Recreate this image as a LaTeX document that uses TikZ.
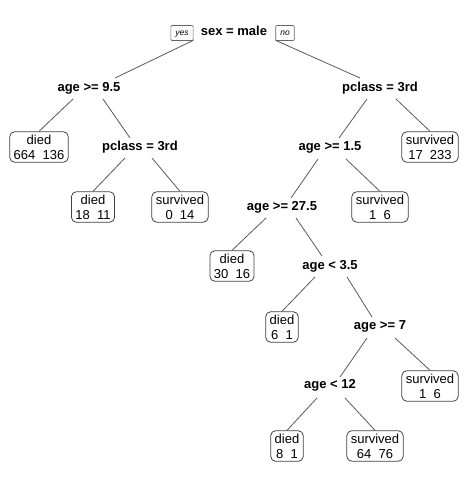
\documentclass[tikz,border=0pt]{standalone}
\usepackage{fontspec}
\setmainfont{Liberation Sans}
\begin{document}
\begin{tikzpicture}[x=1pt,y=-1pt,
  split/.style={font=\fontsize{13}{15}\selectfont\bfseries, inner sep=1pt},
  leaf/.style={draw=black!75, rounded corners=5pt, align=center, line width=0.8pt,
    font=\fontsize{13}{15}\selectfont, inner xsep=4pt, inner ysep=3pt},
  yn/.style={draw=black!60, font=\fontsize{8.5}{10}\selectfont\itshape, inner xsep=4.5pt,
    inner ysep=0pt, text height=7pt, text depth=2pt, minimum height=15pt, line width=0.6pt, rounded corners=1pt},
  conn/.style={draw=black!65, line width=0.8pt}]
\useasboundingbox (0,0) rectangle (474,481);
% splits
\node[split] (S) at (234,31) {sex = male};
\node[yn] (yes) at (182,33) {yes};
\node[yn] (no) at (285,33) {no};
\node[split] (A) at (89,88) {age >= 9.5};
\node[split] (B) at (380,88) {pclass = 3rd};
\node[split] (C) at (140,147) {pclass = 3rd};
\node[split] (D) at (330,147) {age >= 1.5};
\node[split] (E) at (282,207) {age >= 27.5};
\node[split] (F) at (330,266) {age < 3.5};
\node[split] (G) at (380,326) {age >= 7};
\node[split] (H) at (330,385) {age < 12};
% leaves
\node[leaf] (L1) at (39,147) {died\\664\ \ 136};
\node[leaf] (L2) at (430,147) {survived\\17\ \ 233};
\node[leaf] (L3) at (93,207) {died\\18\ \ 11};
\node[leaf] (L4) at (180,207) {survived\\0\ \ 14};
\node[leaf] (L5) at (380,207) {survived\\1\ \ 6};
\node[leaf] (L6) at (232,266) {died\\30\ \ 16};
\node[leaf] (L7) at (282,327) {died\\6\ \ 1};
\node[leaf] (L8) at (430,386) {survived\\1\ \ 6};
\node[leaf] (L9) at (287,446) {died\\8\ \ 1};
\node[leaf] (L10) at (375,446) {survived\\64\ \ 76};
% connectors
\draw[conn] ([shift={(0,-0.5)}]yes.south east) -- ([shift={(26,-10)}]A.center);
\draw[conn] ([shift={(0,-0.5)}]no.south west) -- ([shift={(-20,-10)}]B.center);
\draw[conn] ([shift={(-16,11)}]A.center) -- (L1.north);
\draw[conn] ([shift={(14,11)}]A.center) -- ([shift={(-10,-9)}]C.center);
\draw[conn] ([shift={(-13,11)}]B.center) -- ([shift={(9,-9)}]D.center);
\draw[conn] ([shift={(16,11)}]B.center) -- (L2.north);
\draw[conn] ([shift={(-15,11)}]C.center) -- (L3.north);
\draw[conn] ([shift={(12,11)}]C.center) -- (L4.north);
\draw[conn] ([shift={(-12,12)}]D.center) -- ([shift={(9,-9)}]E.center);
\draw[conn] ([shift={(16,12)}]D.center) -- (L5.north);
\draw[conn] ([shift={(-16,11)}]E.center) -- (L6.north);
\draw[conn] ([shift={(14,11)}]E.center) -- ([shift={(-8,-10)}]F.center);
\draw[conn] ([shift={(-15,11)}]F.center) -- (L7.north);
\draw[conn] ([shift={(17,11)}]F.center) -- ([shift={(-8,-9)}]G.center);
\draw[conn] ([shift={(-13,12)}]G.center) -- ([shift={(10,-8)}]H.center);
\draw[conn] ([shift={(15,12)}]G.center) -- (L8.north);
\draw[conn] ([shift={(-13,13)}]H.center) -- (L9.north);
\draw[conn] ([shift={(15,13)}]H.center) -- (L10.north);
\end{tikzpicture}
\end{document}
